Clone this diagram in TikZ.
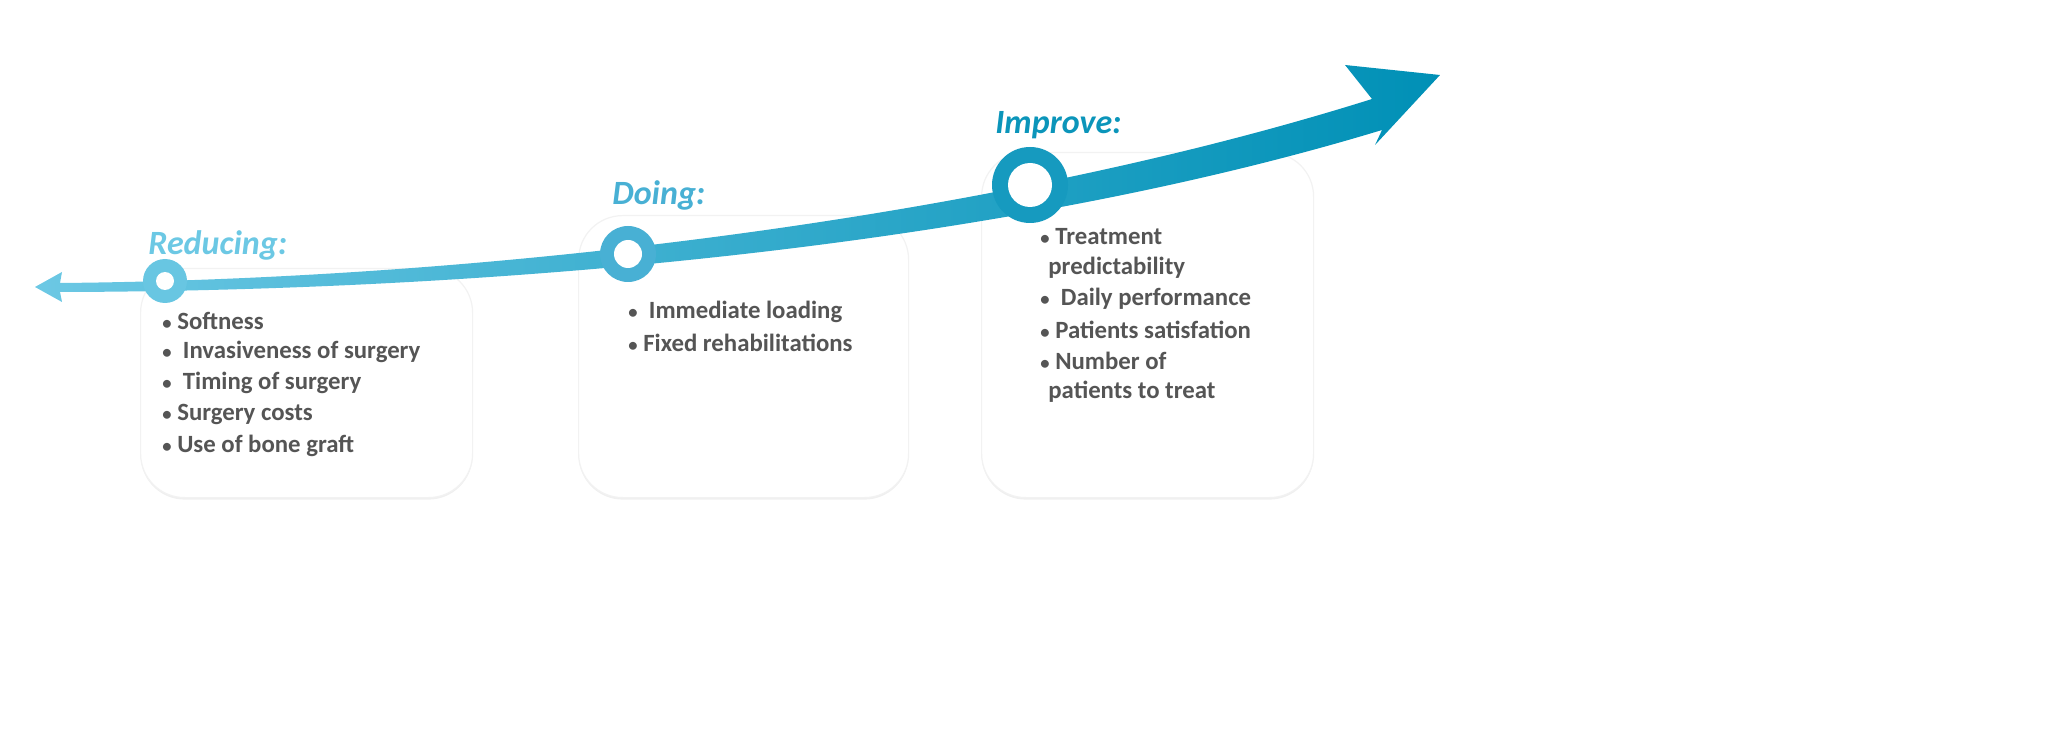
\documentclass[tikz,border=0pt]{standalone}
\usepackage{fontspec}
\setmainfont{Carlito}
\usetikzlibrary{shadows}
\definecolor{txt}{HTML}{555555}
\definecolor{c1}{HTML}{6CC8E4}
\definecolor{c2}{HTML}{48B0D4}
\definecolor{c3}{HTML}{0090B6}
\newcommand{\bul}{{\scalebox{0.75}{•}}}
\begin{document}
\begin{tikzpicture}[x=0.5pt,y=-0.5pt,
 box/.style={draw=black!5,fill=white,rounded corners=22pt,line width=0.6pt,drop shadow={opacity=0.12,shadow xshift=0pt,shadow yshift=-1pt}},
 item/.style={anchor=west,text=txt,font=\fontsize{12.4}{14}\selectfont\bfseries,inner sep=0pt},
 ttl/.style={anchor=west,font=\fontsize{17}{19}\selectfont\bfseries\itshape,inner sep=0pt}]
\useasboundingbox (0,0) rectangle (2048,732);
% boxes
\node[box,minimum width=166pt,minimum height=114.5pt,anchor=north west] (b1) at (140,268) {};
\node[box,minimum width=165pt,minimum height=141pt,anchor=north west] (b2) at (578,215) {};
\node[box,minimum width=166pt,minimum height=172.5pt,anchor=north west] (b3) at (981,152) {};
% arrow body
\shade[left color=c1,right color=c3] (60,283) .. controls (500,279) and (1000,216) .. (1372,99) -- (1345,65) -- (1440,75) -- (1375,145) -- (1382,130) .. controls (1000,246) and (500,291) .. (60,292) -- (62,302) -- (35,287) -- (62,272) -- cycle;
% circles
\fill[c1!90!c2] (165,281) circle (11pt); \fill[white] (165,281) circle (4.5pt);
\fill[c2] (628,254) circle (14pt); \fill[white] (628,254) circle (7pt);
\fill[c3!70!c2] (1030,185) circle (19pt); \fill[white] (1030,185) circle (11pt);
% titles
\node[ttl,text=c1] (t1) at (148,245) {Reducing:};
\node[ttl,text=c2] (t2) at (612,195) {Doing:};
\node[ttl,text=c3!85!c2] (t3) at (995,125) {Improve:};
% items
\node[item] (a1) at (162,321) {\bul\ Softness};
\node[item] (a2) at (162,352) {\bul\ \ Invasiveness of surgery};
\node[item] (a3) at (162,383) {\bul\ \ Timing of surgery};
\node[item] (a4) at (162,414) {\bul\ Surgery costs};
\node[item] (a5) at (162,446) {\bul\ Use of bone graft};
\node[item] (d1) at (628,312) {\bul\ \ Immediate loading};
\node[item] (d2) at (628,343) {\bul\ Fixed rehabilitations};
\node[item] (i1) at (1040,237) {\bul\ Treatment};
\node[item] (i2) at (1048,268) {predictability};
\node[item] (i3) at (1040,299) {\bul\ \ Daily performance};
\node[item] (i4) at (1040,330) {\bul\ Patients satisfation};
\node[item] (i5) at (1040,361) {\bul\ Number of};
\node[item] (i6) at (1048,392) {patients to treat};
\end{tikzpicture}
\end{document}
